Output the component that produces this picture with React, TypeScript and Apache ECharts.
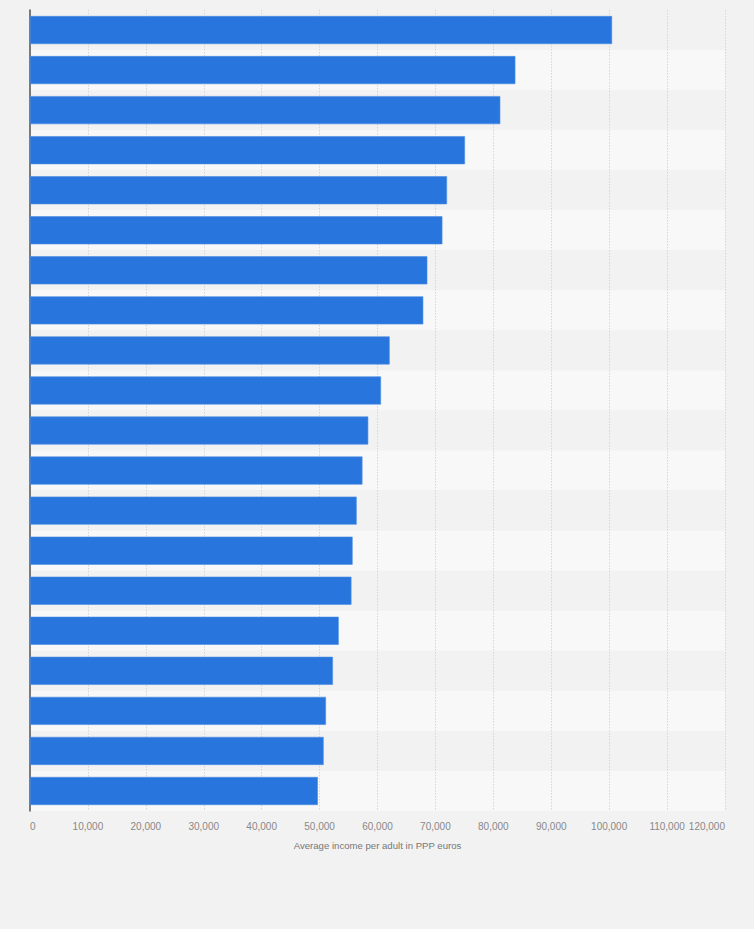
import React, { useEffect, useRef } from "react";
import * as echarts from "echarts";

const categories: string[] = [
  "Rank 1", "Rank 2", "Rank 3", "Rank 4", "Rank 5",
  "Rank 6", "Rank 7", "Rank 8", "Rank 9", "Rank 10",
  "Rank 11", "Rank 12", "Rank 13", "Rank 14", "Rank 15",
  "Rank 16", "Rank 17", "Rank 18", "Rank 19", "Rank 20",
];

const incomeValues: number[] = [
  100500, 83800, 81200, 75100, 72000,
  71200, 68600, 67900, 62100, 60600,
  58400, 57400, 56400, 55700, 55500,
  53300, 52300, 51100, 50700, 49700,
];

const xAxisTitle = "Average income per adult in PPP euros";

export default function App() {
  const ref = useRef<HTMLDivElement>(null);

  useEffect(() => {
    document.body.style.margin = "0";
    document.body.style.background = "#f2f2f2";
    if (!ref.current) return;
    const chart = echarts.init(ref.current, undefined, { renderer: "svg" });
    const font = "'Liberation Sans', Arial, Helvetica, sans-serif";
    chart.setOption({
      animation: false,
      backgroundColor: "#f2f2f2",
      textStyle: { fontFamily: font },
      grid: { left: 30, right: 29, top: 10, bottom: 118, containLabel: false },
      xAxis: {
        type: "value",
        min: 0,
        max: 120000,
        interval: 10000,
        name: xAxisTitle,
        nameLocation: "middle",
        nameGap: 29,
        nameTextStyle: { color: "#777", fontSize: 9.6, fontFamily: font },
        axisLine: { show: false },
        axisTick: { show: false },
        axisLabel: {
          color: "#888",
          fontSize: 10,
          fontFamily: font,
          margin: 10,
          alignMinLabel: "left",
          alignMaxLabel: "right",
          formatter: (v: number) => v.toLocaleString("en-US"),
        },
        splitLine: {
          show: true,
          lineStyle: { color: "#d6d6d6", width: 1, type: [1.5, 1.5] },
        },
      },
      yAxis: {
        type: "category",
        data: categories,
        inverse: true,
        axisLabel: { show: false },
        axisTick: { show: false },
        axisLine: { show: true, lineStyle: { color: "#555", width: 1.5 } },
        splitLine: { show: false },
        splitArea: {
          show: true,
          areaStyle: { color: ["#f2f2f2", "#f8f8f8"] },
        },
      },
      series: [
        {
          type: "bar",
          data: incomeValues,
          barCategoryGap: "30%",
          itemStyle: { color: "#2876dd", borderColor: "#4a8be3", borderWidth: 0.6 },
          z: 3,
        },
      ],
    });
    return () => chart.dispose();
  }, []);

  return <div ref={ref} style={{ width: 754, height: 929 }} />;
}
